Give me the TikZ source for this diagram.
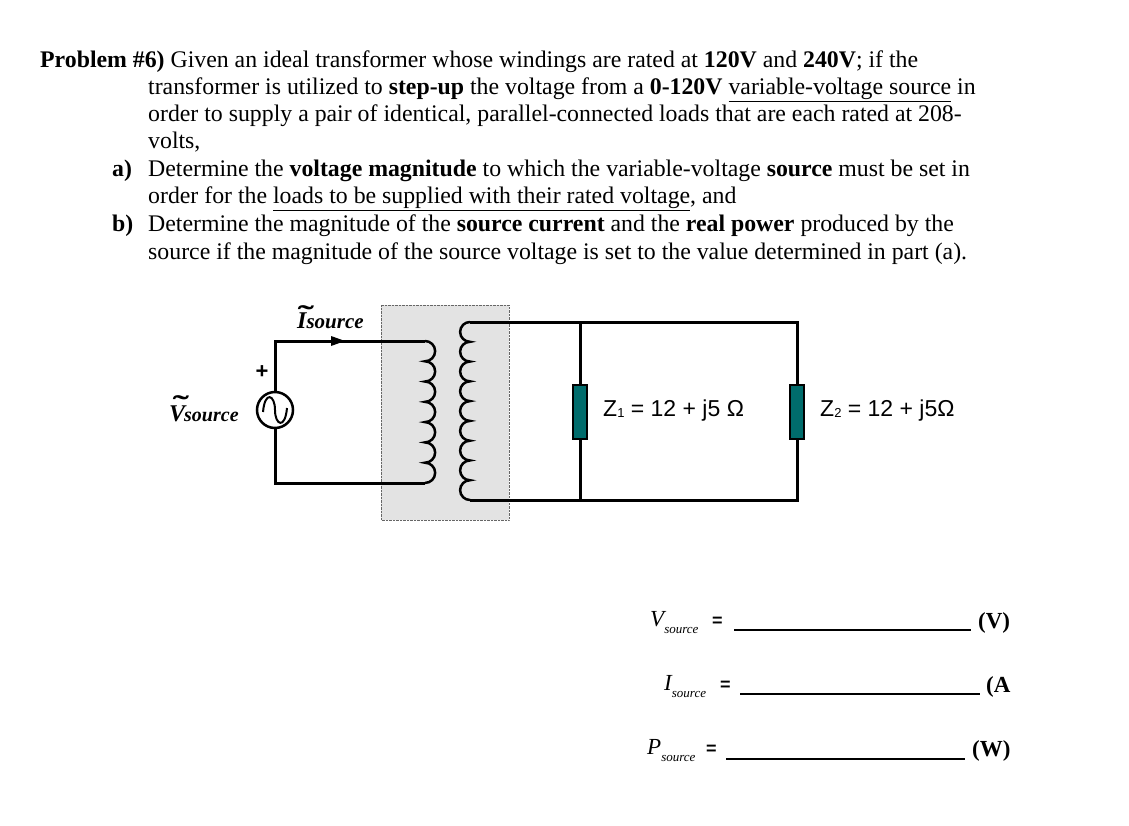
\documentclass[tikz,border=0pt]{standalone}
\usepackage{fontspec}
\setmainfont{Liberation Serif}
\newfontfamily\arialf{Liberation Sans}
\usetikzlibrary{arrows.meta}
\newcommand{\tld}{\scalebox{2.2}[1.3]{\char"02DC}}
\begin{document}
\begin{tikzpicture}[x=1pt,y=-1pt,
  ln/.style={anchor=base west,inner sep=0pt,font=\fontsize{23.8}{26}\selectfont},
  w/.style={line width=3pt},
  ul/.style={line width=1.5pt,line cap=rect}]
\useasboundingbox (0,0) rectangle (1129,826);
% text
\node[ln] (l1) at (40,68) {\textbf{Problem \#6)} Given an ideal transformer whose windings are rated at \textbf{120V} and \textbf{240V}; if the};
\node[ln] (l2) at (148,95) {transformer is utilized to \textbf{step-up} the voltage from a \textbf{0-120V} \underline{variable-voltage source} in};
\node[ln] (l3) at (148,122) {order to supply a pair of identical, parallel-connected loads that are each rated at 208-};
\node[ln] (l4) at (148,149) {volts,};
\node[ln] (a) at (112,177) {\textbf{a)}};
\node[ln] (l5) at (148,177) {Determine the \textbf{voltage magnitude} to which the variable-voltage \textbf{source} must be set in};
\node[ln] (l6) at (148,204) {order for the \underline{loads to be supplied with their rated voltage}, and};
\node[ln] (b) at (112,232) {\textbf{b)}};
\node[ln] (l7) at (148,232) {Determine the magnitude of the \textbf{source current} and the \textbf{real power} produced by the};
\node[ln] (l8) at (148,259) {source if the magnitude of the source voltage is set to the value determined in part (a).};
% transformer box
\draw[densely dotted,fill=black!11,draw=black!60] (381,305) rectangle (509,520);
% source
\node[circle,draw,line width=2.5pt,minimum size=36pt,inner sep=0pt] (src) at (275,410) {};
\draw[line width=2pt] (263,412) .. controls (265,390) and (275,395) .. (275,410) .. controls (275,425) and (285,430) .. (287,408);
\coordinate (pt) at (425,341);
\coordinate (pb) at (425,483);
\draw[w] (src.north) |- (pt);
\draw[w] (src.south) |- (pb);
\draw[-{Triangle[length=14pt,width=10pt]},line width=0pt,fill=black] (318,341) -- (345,341);
\node[font=\bfseries\arialf\fontsize{22}{22}\selectfont] (plus) at (262,372) {+};
\node[anchor=base west,font=\bfseries\itshape\fontsize{24}{24}\selectfont,inner sep=0pt] (vs) at (169,421) {V\kern-1pt\fontsize{20}{20}\selectfont source};
\node[font=\bfseries\fontsize{22}{22}\selectfont,inner sep=0pt] (vst) at (181,406) {\tld};
\node[anchor=base west,font=\bfseries\itshape\fontsize{24}{24}\selectfont,inner sep=0pt] (is) at (297,328) {I\fontsize{21}{21}\selectfont source};
\node[font=\bfseries\fontsize{22}{22}\selectfont,inner sep=0pt] (ist) at (306,316) {\tld};
% primary coil: 7 loops bulging right
\draw[line width=2.5pt] (pt) \foreach \i in {0,...,6} { arc[start angle=-90,end angle=90,radius=10.14] } ;
% secondary coil: 9 loops bulging left
\coordinate (st) at (470,322);
\coordinate (sb) at (470,500);
\draw[line width=2.5pt] (st) \foreach \i in {0,...,8} { arc[start angle=-90,end angle=-270,radius=9.89] } ;
% secondary wiring
\coordinate (tr) at (797,322);
\coordinate (br) at (797,500);
\draw[w] (st) -- (tr) -- (br) -- (sb);
\draw[w] (580,322) -- (580,500);
\node[draw,line width=1.5pt,fill=teal!85!black,minimum width=14pt,minimum height=54pt,inner sep=0pt] (z1) at (580,412) {};
\node[draw,line width=1.5pt,fill=teal!85!black,minimum width=14pt,minimum height=54pt,inner sep=0pt] (z2) at (797,412) {};
\node[anchor=west,font=\arialf\fontsize{23}{23}\selectfont,inner sep=0pt] (z1l) at (603,411) {Z\raisebox{-1pt}{\fontsize{13}{13}\selectfont 1} = 12 + j5 \char"03A9};
\node[anchor=west,font=\arialf\fontsize{23}{23}\selectfont,inner sep=0pt] (z2l) at (820,411) {Z\raisebox{-1pt}{\fontsize{13}{13}\selectfont 2} = 12 + j5\char"03A9};
% answers
\node[anchor=base west,inner sep=0pt,font=\itshape\fontsize{23}{23}\selectfont] (va) at (650,626) {V\raisebox{-7pt}{\fontsize{13}{13}\selectfont source}};
\node[anchor=base west,inner sep=0pt,font=\bfseries\arialf\fontsize{18}{18}\selectfont] at (712,626) {=};
\draw[ul] (735,630) coordinate (v1) -- (970,630) coordinate (v2);
\node[anchor=base west,inner sep=0pt,font=\bfseries\fontsize{23}{23}\selectfont] at (978,628) {(V)};
\node[anchor=base west,inner sep=0pt,font=\itshape\fontsize{23}{23}\selectfont] (ia) at (664,690) {I\raisebox{-7pt}{\fontsize{13}{13}\selectfont source}};
\node[anchor=base west,inner sep=0pt,font=\bfseries\arialf\fontsize{18}{18}\selectfont] at (720,690) {=};
\draw[ul] (741,694) coordinate (i1) -- (979,694) coordinate (i2);
\node[anchor=base west,inner sep=0pt,font=\bfseries\fontsize{23}{23}\selectfont] at (986,692) {(A};
\node[anchor=base west,inner sep=0pt,font=\itshape\fontsize{23}{23}\selectfont] (pa) at (647,754) {P\raisebox{-7pt}{\fontsize{13}{13}\selectfont source}};
\node[anchor=base west,inner sep=0pt,font=\bfseries\arialf\fontsize{18}{18}\selectfont] at (706,754) {=};
\draw[ul] (727,759) coordinate (p1) -- (964,759) coordinate (p2);
\node[anchor=base west,inner sep=0pt,font=\bfseries\fontsize{23}{23}\selectfont] at (972,756) {(W)};
\end{tikzpicture}
\end{document}
